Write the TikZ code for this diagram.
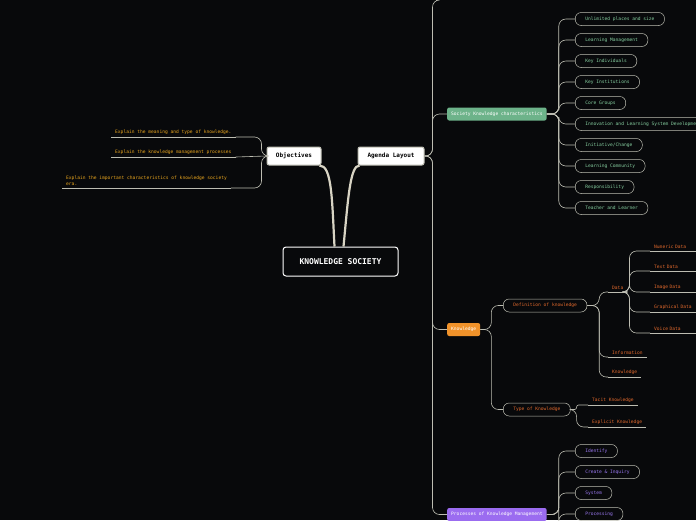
\documentclass[tikz,border=0pt]{standalone}
\usepackage{fontspec}
\setmainfont{DejaVu Sans Mono}
\begin{document}
\begin{tikzpicture}[x=1pt,y=-1pt,
  every node/.style={font=\fontsize{4.6}{6}\selectfont},
  con/.style={draw=lnc,line width=0.6pt,rounded corners=7pt},
  big/.style={draw=lnb,line width=2.2pt},
  main/.style={draw=lnc,line width=1pt,fill=white,rounded corners=2pt,text=black,font=\fontsize{6}{7}\selectfont\bfseries,minimum height=18pt,inner xsep=8pt},
  cat/.style={rounded corners=2pt,text=white,minimum height=13pt,inner xsep=4pt,anchor=west},
  leaf/.style={draw=lnc,rounded corners=6pt,line width=0.5pt,minimum height=13pt,inner xsep=10pt,anchor=west},
  ul/.style={anchor=south west,inner xsep=4pt,inner ysep=2pt},
]
\definecolor{bg}{HTML}{08090B}
\definecolor{lnc}{HTML}{BDBDB2}
\definecolor{lnb}{HTML}{D8D4C4}
\definecolor{grn}{HTML}{6DB38A}
\definecolor{grt}{HTML}{86CFA0}
\definecolor{org}{HTML}{F0922A}
\definecolor{ort}{HTML}{E0682C}
\definecolor{pur}{HTML}{9B6CF0}
\definecolor{put}{HTML}{9A78F0}
\definecolor{yel}{HTML}{E8A51E}
\fill[bg] (0,0) rectangle (696,520);
\useasboundingbox (0,0) rectangle (696,520);

% main
\node[main,draw=white,fill=bg,text=white,font=\fontsize{8}{9}\selectfont\bfseries,minimum width=115pt,minimum height=29pt,rounded corners=3pt] (ks) at (340.5,261.5) {KNOWLEDGE SOCIETY};
\node[main,minimum width=54pt] (obj) at (294,156) {Objectives};
\node[main,minimum width=66pt] (ag) at (391,156) {Agenda Layout};
\draw[big] ([xshift=-6pt]ks.north) .. controls (332,200) and (332,165) .. ([xshift=-2pt]obj.south east);
\draw[big] ([xshift=3pt]ks.north) .. controls (348,200) and (350,165) .. ([xshift=2pt]ag.south west);

% objectives
\node[ul,text=yel] (o1) at (111,137) {Explain the meaning and type of knowledge.\hspace{14pt}};
\node[ul,text=yel] (o2) at (111,157) {Explain the knowledge management processes\hspace{4pt}};
\node[ul,text=yel,align=left] (o3) at (62,188) {Explain the important characteristics of knowledge society\\era.\hspace{183pt}};
\foreach \n in {o1,o2,o3}{\draw[lnc,line width=0.5pt] (\n.south west) -- (\n.south east);}
\draw[con] (obj.west) -- ++(-5,0) |- (o1.south east);
\draw[con] (obj.west) -- (o2.south east);
\draw[con] (obj.west) -- ++(-5,0) |- (o3.south east);

% agenda categories
\coordinate (top) at (436,0);
\node[cat,fill=grn] (skc) at (447,114) {Society Knowledge characteristics};
\node[cat,fill=org] (kn) at (447,329.5) {Knowledge};
\node[cat,fill=pur] (pkm) at (447,514.5) {Processes of Knowledge Management};
\draw[con] (ag.east) -- ++(8,0) |- (top);
\draw[con] (ag.east) -- ++(8,0) |- (skc.west);
\draw[con] (ag.east) -- ++(8,0) |- (kn.west);
\draw[con] (ag.east) -- ++(8,0) |- (pkm.west);

% society children
\foreach \t [count=\i] in {Unlimited places and size,Learning Management,Key Individuals,Key Institutions,Core Groups,Innovation and Learning System Development,Initiative/Change,Learning Community,Responsibility,Teacher and Learner}{
  \node[leaf,text=grt] (s\i) at (575,{19+21*(\i-1)}) {\t};
  \draw[con] (skc.east) -- ++(12,0) |- (s\i.west);
}

% knowledge
\node[leaf,text=ort] (def) at (503,305.5) {Definition of knowledge};
\node[leaf,text=ort] (typ) at (503,409.5) {Type of Knowledge};
\draw[con] (kn.east) -- ++(11,0) |- (def.west);
\draw[con] (kn.east) -- ++(11,0) |- (typ.west);

\node[ul,text=ort] (data) at (608,292) {Data\hspace{22pt}};
\node[ul,text=ort] (info) at (608,357) {Information\hspace{8pt}};
\node[ul,text=ort] (know) at (608,377) {Knowledge\hspace{8pt}};
\foreach \n in {data,info,know}{\draw[lnc,line width=0.5pt] (\n.south west) -- (\n.south east);
  \draw[con] (def.east) -- ++(12,0) |- (\n.south west);}

\foreach \t/\y [count=\i] in {Numeric Data/251,Text Data/271,Image Data/292,Graphical Data/312,Voice Data/333}{
  \node[ul,text=ort,text width=44pt,align=left] (d\i) at (650,\y) {\t};
  \draw[lnc,line width=0.5pt] (d\i.south west) -- (d\i.south east);
  \draw[con] (data.south east) -- ++(2,0) |- (d\i.south west);
}

\node[ul,text=ort] (tac) at (588,405) {Tacit Knowledge\hspace{8pt}};
\node[ul,text=ort] (exp) at (588,427) {Explicit Knowledge\hspace{2pt}};
\foreach \n in {tac,exp}{\draw[lnc,line width=0.5pt] (\n.south west) -- (\n.south east);}
\draw[con,rounded corners=2pt] (typ.east) -- ++(6,0) |- (tac.south west);
\draw[con] (typ.east) -- ++(6,0) |- (exp.south west);

% processes
\foreach \t/\y [count=\i] in {Identify/451,Create \& Inquiry/472,System/493,Processing/514}{
  \node[leaf,text=put] (p\i) at (575,\y) {\t};
  \draw[con] (pkm.east) -- ++(12,0) |- (p\i.west);
}
\end{tikzpicture}
\end{document}
